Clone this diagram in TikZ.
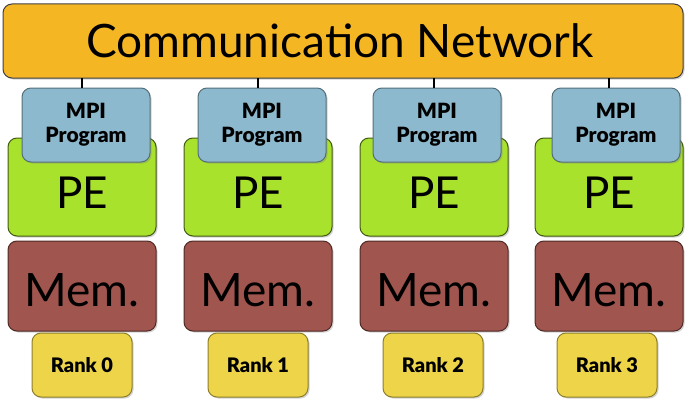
\documentclass[tikz,border=0pt]{standalone}
\usepackage{fontspec}
\setmainfont{Lato}[BoldFont={Lato Black}]
\usetikzlibrary{shadows}
\definecolor{netc}{HTML}{F5B624}
\definecolor{mpic}{HTML}{8CB9CD}
\definecolor{pec}{HTML}{A8E22C}
\definecolor{memc}{HTML}{A0554E}
\definecolor{rankc}{HTML}{EDD448}
\tikzset{
  box/.style={draw=black!75, line width=1pt, rounded corners=9pt, drop shadow={shadow xshift=1.5pt, shadow yshift=-1.5pt, opacity=0.35}},
  netbox/.style={box, fill=netc, minimum width=680pt, minimum height=74pt, font=\fontsize{46}{50}\selectfont},
  mpibox/.style={box, draw=mpic!60!black, fill=mpic, minimum width=128pt, minimum height=74pt, align=center, font=\bfseries\fontsize{21}{24}\selectfont},
  pebox/.style={box, draw=pec!40!black, fill=pec, minimum width=148pt, minimum height=98pt, text height=42pt, font=\fontsize{44}{46}\selectfont},
  membox/.style={box, draw=memc!50!black, fill=memc, minimum width=148pt, minimum height=90pt, text height=42pt, font=\fontsize{46}{48}\selectfont},
  rankbox/.style={box, draw=rankc!60!black, fill=rankc, minimum width=100pt, minimum height=64pt, font=\bfseries\fontsize{20}{22}\selectfont},
  link/.style={line width=2pt, black}
}
\begin{document}
\begin{tikzpicture}[x=1pt,y=-1pt]
\useasboundingbox (0,0) rectangle (685,404);
\node[netbox] (net) at (343,41) {\hspace*{-6pt}Communication Network};
\foreach \i/\cx/\mx/\rx in {0/82/86/82, 1/258/262/258, 2/434/437/433, 3/609/616/607}{
  \coordinate (top\i) at (\cx,78);
  \node[membox] (mem\i) at (\cx,286) {Mem.};
  \node[rankbox] (rank\i) at (\rx,365) {Rank \i};
  \node[pebox] (pe\i) at (\cx,187) {PE};
  \node[mpibox] (mpi\i) at (\mx,125) {MPI\\Program};
  \draw[link] (top\i) -- (top\i |- mpi\i.north);
}
\end{tikzpicture}
\end{document}
